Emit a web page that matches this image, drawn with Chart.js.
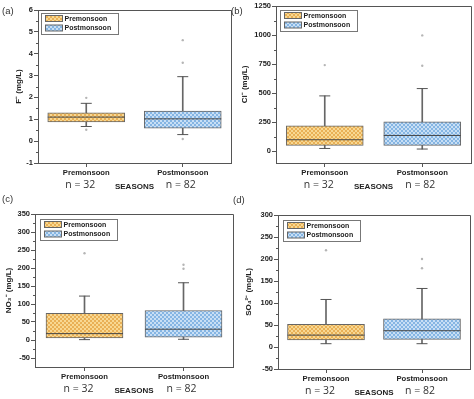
<!DOCTYPE html>
<html><head><meta charset="utf-8">
<script src="https://cdn.jsdelivr.net/npm/chart.js@4.4.1/dist/chart.umd.min.js"></script>
<style>
html,body{margin:0;padding:0;background:#fff;}
#wrap{position:relative;width:474px;height:399px;overflow:hidden;font-family:"Liberation Sans",Arial,sans-serif;}
canvas{position:absolute;}
.plab{position:absolute;font-size:9.5px;color:#333;line-height:10px;}
</style></head><body>
<div id="wrap">
<canvas id="ca" width="237" height="200" style="left:0;top:0"></canvas>
<canvas id="cb" width="237" height="200" style="left:237px;top:0"></canvas>
<canvas id="cc" width="237" height="199" style="left:0;top:200px"></canvas>
<canvas id="cd" width="237" height="199" style="left:237px;top:200px"></canvas>
<div class="plab" style="left:2px;top:6px">(a)</div>
<div class="plab" style="left:231px;top:6px">(b)</div>
<div class="plab" style="left:2px;top:194px">(c)</div>
<div class="plab" style="left:233px;top:195px">(d)</div>
</div>
<script>
const categories = ['Premonsoon', 'Postmonsoon'];
const sampleSizes = ['n = 32', 'n = 82'];
const xTitle = 'SEASONS';

// (a) Fluoride
const fQ1 = [0.88, 0.59];
const fMedian = [1.10, 1.02];
const fQ3 = [1.30, 1.37];
const fWhiskerLow = [0.67, 0.30];
const fWhiskerHigh = [1.73, 2.95];
const fOutliersPre = [1.98, 0.52];
const fOutliersPost = [4.62, 3.59, 0.10];
const fTicks = [-1, 0, 1, 2, 3, 4, 5, 6];

// (b) Chloride
const clQ1 = [51, 51];
const clMedian = [100, 137];
const clQ3 = [220, 254];
const clWhiskerLow = [25, 20];
const clWhiskerHigh = [477, 540];
const clOutliersPre = [742];
const clOutliersPost = [997, 736];
const clTicks = [0, 250, 500, 750, 1000, 1250];

// (c) Nitrate
const no3Q1 = [5.5, 8];
const no3Median = [17.7, 30];
const no3Q3 = [74, 82];
const no3WhiskerLow = [1, 2];
const no3WhiskerHigh = [122, 159];
const no3OutliersPre = [241];
const no3OutliersPost = [209, 198];
const no3Ticks = [-50, 0, 50, 100, 150, 200, 250, 300, 350];

// (d) Sulfate
const so4Q1 = [16, 17.5];
const so4Median = [27, 37];
const so4Q3 = [51.5, 64];
const so4WhiskerLow = [7.5, 7.5];
const so4WhiskerHigh = [108, 133];
const so4OutliersPre = [220];
const so4OutliersPost = [200, 179];
const so4Ticks = [-50, 0, 50, 100, 150, 200, 250, 300];

function makePattern(base, alt) {
  const c = document.createElement('canvas');
  c.width = 4; c.height = 4;
  const g = c.getContext('2d');
  g.fillStyle = base; g.fillRect(0, 0, 4, 4);
  g.fillStyle = alt; g.fillRect(0, 0, 2, 2); g.fillRect(2, 2, 2, 2);
  return g.createPattern(c, 'repeat');
}
const patPre = makePattern('#e9b056', '#f8d892');
const patPost = makePattern('#85b5e3', '#c8dff5');
const FONT = '"Liberation Sans", Arial, sans-serif';
const AX = '#555';

const decor = {
  id: 'decor',
  afterDatasetsDraw(chart, args, o) {
    const ctx = chart.ctx, ca = chart.chartArea;
    const x0 = Math.round(ca.left + o.lx) + 0.5, y0 = Math.round(ca.top + o.ly) + 0.5;
    const w = 77, h = 21;
    ctx.save();
    ctx.fillStyle = '#fff'; ctx.fillRect(x0, y0, w, h);
    ctx.strokeStyle = '#777'; ctx.lineWidth = 1; ctx.strokeRect(x0, y0, w, h);
    const pats = [patPre, patPost];
    for (let i = 0; i < 2; i++) {
      const yy = y0 + 2 + i * 9.5;
      ctx.fillStyle = pats[i]; ctx.fillRect(x0 + 4, yy, 17, 6);
      ctx.strokeStyle = '#666'; ctx.strokeRect(x0 + 4, yy, 17, 6);
      ctx.fillStyle = '#222'; ctx.font = 'bold 7px ' + FONT;
      ctx.textBaseline = 'middle'; ctx.textAlign = 'left';
      ctx.fillText(chart.data.datasets[i].label, x0 + 23, yy + 3.5);
    }
    ctx.restore();
  },
  afterDraw(chart, args, o) {
    const ctx = chart.ctx, ca = chart.chartArea;
    ctx.save();
    ctx.strokeStyle = AX; ctx.lineWidth = 1;
    ctx.beginPath();
    ctx.moveTo(ca.left, Math.round(ca.top) + 0.5);
    ctx.lineTo(Math.round(ca.right) + 0.5, Math.round(ca.top) + 0.5);
    ctx.lineTo(Math.round(ca.right) + 0.5, ca.bottom);
    ctx.stroke();
    const ys = chart.scales.y, t = o.ticks;
    ctx.beginPath();
    for (let i = 0; i < t.length - 1; i++) {
      const v = (t[i] + t[i + 1]) / 2;
      const py = Math.round(ys.getPixelForValue(v)) + 0.5;
      ctx.moveTo(ca.left - 2, py); ctx.lineTo(ca.left, py);
    }
    ctx.stroke();
    const xs = chart.scales.x;
    ctx.fillStyle = '#333'; ctx.textBaseline = 'middle'; ctx.textAlign = 'center';
    ctx.font = '10.5px "Open Sans", sans-serif';
    const offs = [-6, -2];
    sampleSizes.forEach((s, i) => {
      ctx.fillText(s, xs.getPixelForValue(i) + offs[i], ca.bottom + 22);
    });
    ctx.fillStyle = '#222'; ctx.font = 'bold 8px ' + FONT;
    ctx.fillText(xTitle, (ca.left + ca.right) / 2, ca.bottom + 23.5);
    ctx.restore();
  }
};

function boxChart(id, p) {
  const capPts = [], outPts = [];
  categories.forEach((c, i) => {
    capPts.push({x: c, y: p.wlo[i]}, {x: c, y: p.whi[i]});
  });
  p.outPre.forEach(v => outPts.push({x: categories[0], y: v}));
  p.outPost.forEach(v => outPts.push({x: categories[1], y: v}));
  return new Chart(document.getElementById(id), {
    type: 'bar',
    data: {
      labels: categories,
      datasets: [
        {type: 'bar', label: categories[0], data: [[p.q1[0], p.q3[0]], null], backgroundColor: patPre,
          borderColor: '#666', borderWidth: 1, borderSkipped: false, grouped: false, barThickness: 77, order: 2},
        {type: 'bar', label: categories[1], data: [null, [p.q1[1], p.q3[1]]], backgroundColor: patPost,
          borderColor: '#666', borderWidth: 1, borderSkipped: false, grouped: false, barThickness: 77, order: 2},
        {type: 'bar', label: 'whisker', data: categories.map((c, i) => [p.wlo[i], p.whi[i]]), backgroundColor: '#666',
          borderWidth: 0, grouped: false, barThickness: 1, order: 5},
        {type: 'line', label: 'median', data: p.med, showLine: false, pointStyle: 'line', pointRadius: 38.5,
          pointBorderColor: '#444', pointBorderWidth: 1, order: 1},
        {type: 'line', label: 'caps', data: capPts, showLine: false, pointStyle: 'line', pointRadius: 5.5,
          pointBorderColor: '#555', pointBorderWidth: 1, order: 1},
        {type: 'line', label: 'outliers', data: outPts, showLine: false, pointStyle: 'circle', pointRadius: 1.2,
          pointBackgroundColor: '#b5b5b5', pointBorderWidth: 0, order: 1}
      ]
    },
    options: {
      responsive: false, animation: false, events: [],
      layout: {autoPadding: false, padding: {left: 0, right: p.padR, top: p.padT, bottom: 0}},
      plugins: {legend: {display: false}, tooltip: {enabled: false}, decor: {ticks: p.ticks, lx: p.lx, ly: p.ly}},
      scales: {
        x: {
          type: 'category', offset: true,
          afterFit: s => { s.height = p.xH; },
          ticks: {font: {family: FONT, size: 7.7, weight: 'bold'}, color: '#222', padding: 1, maxRotation: 0},
          grid: {drawOnChartArea: false, offset: false, tickLength: 4, color: AX},
          border: {color: AX}
        },
        y: {
          min: p.min, max: p.max,
          afterBuildTicks: s => { s.ticks = p.ticks.map(v => ({value: v})); },
          afterFit: s => { s.width = p.yW; },
          ticks: {font: {family: FONT, size: 7.5, weight: 'bold'}, color: '#222', padding: 1,
            callback: v => String(v)},
          grid: {drawOnChartArea: false, tickLength: 4, color: AX},
          border: {color: AX},
          title: {display: true, text: p.title, font: {family: FONT, size: 8, weight: 'bold'}, color: '#222',
            padding: {top: p.tPad, bottom: 0}}
        }
      }
    },
    plugins: [decor]
  });
}

boxChart('ca', {q1: fQ1, med: fMedian, q3: fQ3, wlo: fWhiskerLow, whi: fWhiskerHigh, outPre: fOutliersPre, outPost: fOutliersPost,
  ticks: fTicks, min: -1, max: 6, title: 'F\u207B (mg/L)', yW: 38, xH: 37, padR: 6, padT: 10, tPad: 13.5, lx: 3, ly: 3});
boxChart('cb', {q1: clQ1, med: clMedian, q3: clQ3, wlo: clWhiskerLow, whi: clWhiskerHigh, outPre: clOutliersPre, outPost: clOutliersPost,
  ticks: clTicks, min: -100, max: 1250, title: 'Cl\u207B (mg/L)', yW: 39, xH: 37, padR: 3, padT: 6, tPad: 3, lx: 4, ly: 4});
boxChart('cc', {q1: no3Q1, med: no3Median, q3: no3Q3, wlo: no3WhiskerLow, whi: no3WhiskerHigh, outPre: no3OutliersPre, outPost: no3OutliersPost,
  ticks: no3Ticks, min: -75, max: 350, title: 'NO\u2083\u207B (mg/L)', yW: 35, xH: 32, padR: 4, padT: 14, tPad: 3.5, lx: 5, ly: 5});
boxChart('cd', {q1: so4Q1, med: so4Median, q3: so4Q3, wlo: so4WhiskerLow, whi: so4WhiskerHigh, outPre: so4OutliersPre, outPost: so4OutliersPost,
  ticks: so4Ticks, min: -50, max: 300, title: 'SO\u2084\u00B2\u207B (mg/L)', yW: 41, xH: 30, padR: 4, padT: 15, tPad: 7, lx: 5, ly: 5});
</script>
</body></html>
